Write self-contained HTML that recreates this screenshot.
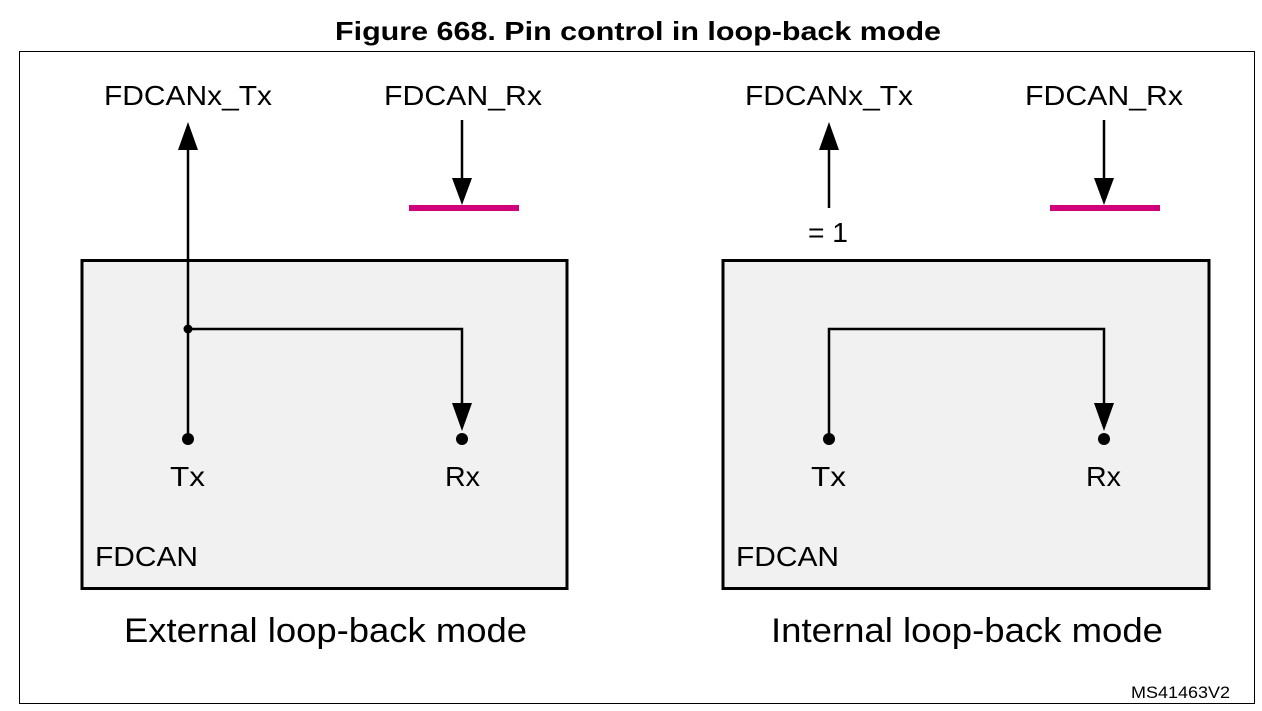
<!DOCTYPE html>
<html><head><style>html,body{margin:0;padding:0;background:#fff}svg{display:block}</style></head><body>
<svg width="1262" height="711" xmlns="http://www.w3.org/2000/svg" font-family="Liberation Sans, Arial, sans-serif">
<text x="335" y="40" font-size="26" font-weight="bold" textLength="606" lengthAdjust="spacingAndGlyphs">Figure 668. Pin control in loop-back mode</text>
<rect x="19.5" y="51.5" width="1235" height="652" fill="none" stroke="#000" stroke-width="1"/>
<g stroke="#000" fill="none">
<rect x="82" y="260.5" width="485" height="328" fill="#f1f1f1" stroke-width="3"/>
<rect x="723" y="260.5" width="486" height="328" fill="#f1f1f1" stroke-width="3"/>
<line x1="409" y1="208" x2="519" y2="208" stroke="#d0007a" stroke-width="6"/>
<line x1="1050" y1="208" x2="1160" y2="208" stroke="#d0007a" stroke-width="6"/>
<g stroke-width="2.5">
<line x1="188" y1="438" x2="188" y2="150"/>
<line x1="462" y1="120" x2="462" y2="180"/>
<polyline points="188,329 462,329 462,405"/>
<line x1="829" y1="208" x2="829" y2="150"/>
<line x1="1104" y1="120" x2="1104" y2="180"/>
<polyline points="829,438 829,329 1104,329 1104,405"/>
</g>
</g>
<g fill="#000">
<path d="M178,150 L198,150 L188,122 Z"/>
<path d="M452,178 L472,178 L462,205 Z"/>
<path d="M452,403 L472,403 L462,431 Z"/>
<path d="M819,150 L839,150 L829,122 Z"/>
<path d="M1094,178 L1114,178 L1104,205 Z"/>
<path d="M1094,403 L1114,403 L1104,431 Z"/>
<circle cx="188" cy="329" r="4.5"/>
<circle cx="188" cy="439" r="6"/><circle cx="462" cy="439" r="6"/>
<circle cx="829" cy="439" r="6"/><circle cx="1104" cy="439" r="6"/>
</g>
<g font-size="28" fill="#000" lengthAdjust="spacingAndGlyphs">
<text x="104" y="105" textLength="168" lengthAdjust="spacingAndGlyphs">FDCANx_Tx</text>
<text x="384" y="105" textLength="158" lengthAdjust="spacingAndGlyphs">FDCAN_Rx</text>
<text x="745" y="105" textLength="168" lengthAdjust="spacingAndGlyphs">FDCANx_Tx</text>
<text x="1025" y="105" textLength="158" lengthAdjust="spacingAndGlyphs">FDCAN_Rx</text>
<text x="808" y="242" textLength="40" lengthAdjust="spacingAndGlyphs">= 1</text>
<text x="170" y="486" textLength="35" lengthAdjust="spacingAndGlyphs">Tx</text>
<text x="445" y="486" textLength="35" lengthAdjust="spacingAndGlyphs">Rx</text>
<text x="811" y="486" textLength="35" lengthAdjust="spacingAndGlyphs">Tx</text>
<text x="1086" y="486" textLength="35" lengthAdjust="spacingAndGlyphs">Rx</text>
<text x="95" y="566" textLength="103" lengthAdjust="spacingAndGlyphs">FDCAN</text>
<text x="736" y="566" textLength="103" lengthAdjust="spacingAndGlyphs">FDCAN</text>
</g>
<g font-size="34" fill="#000">
<text x="124" y="642" textLength="403" lengthAdjust="spacingAndGlyphs">External loop-back mode</text>
<text x="771" y="642" textLength="392" lengthAdjust="spacingAndGlyphs">Internal loop-back mode</text>
</g>
<text x="1131" y="698" font-size="17" textLength="99" lengthAdjust="spacingAndGlyphs">MS41463V2</text>
</svg>
</body></html>
